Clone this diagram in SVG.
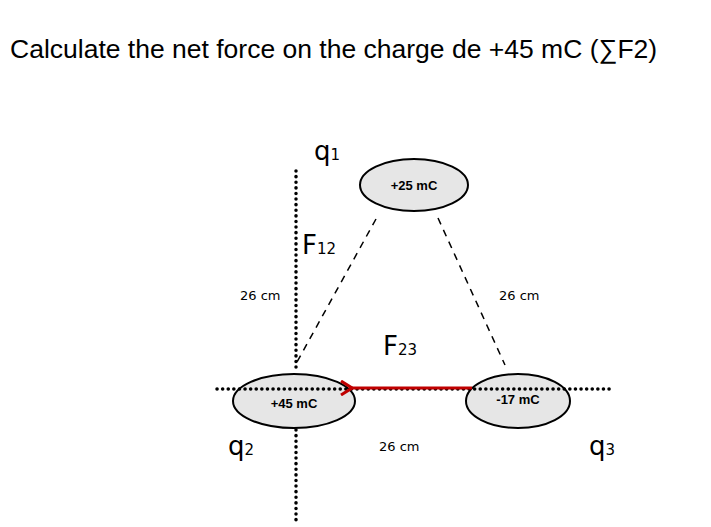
<svg xmlns="http://www.w3.org/2000/svg" width="711" height="527" viewBox="0 0 711 527">
<style>
.t{font-family:"Liberation Sans",sans-serif}
.c{font-family:"DejaVu Sans",sans-serif;font-size:13px;fill:#000}
.n{fill:#e6e6e6;stroke:#000;stroke-width:2}
.nl{font-family:"Liberation Sans",sans-serif;font-size:13px;font-weight:bold;text-anchor:middle}
.big{font-family:"DejaVu Sans",sans-serif;font-size:26px}
.sub{font-size:15px}
.dot{stroke:#000;stroke-width:3.5;stroke-dasharray:0.1 5.5;stroke-linecap:round;fill:none}
.dash{stroke:#000;stroke-width:1.5;stroke-dasharray:7 6;fill:none}
</style>
<defs><marker id="ah" markerWidth="14" markerHeight="16" refX="1" refY="8" orient="auto" markerUnits="userSpaceOnUse"><path d="M12,1 L1,8 L12,15" fill="none" stroke="#c00000" stroke-width="3"/></marker></defs>
<rect width="711" height="527" fill="#fff"/>
<text class="t" x="10" y="58" font-size="26.5">Calculate the net force on the charge de +45 mC (∑F2)</text>
<g id="q1"><ellipse class="n" cx="414" cy="185" rx="54" ry="26"/><text class="nl" x="414" y="190">+25 mC</text></g>
<g id="q2"><ellipse class="n" cx="294" cy="401" rx="61" ry="27"/><text class="nl" x="294" y="408" font-size="15">+45 mC</text></g>
<g id="q3"><ellipse class="n" cx="518" cy="401" rx="52" ry="27"/><text class="nl" x="518" y="404">-17 mC</text></g>
<g id="connectors">
<line class="dot" x1="296" y1="171" x2="296" y2="372"/>
<line class="dot" x1="296" y1="430" x2="296" y2="520"/>
<line class="dot" x1="217" y1="389" x2="611" y2="389"/>
<line class="dash" x1="376" y1="219" x2="297" y2="362"/>
<line class="dash" x1="438" y1="218" x2="505" y2="365"/>
<line x1="472" y1="388" x2="352" y2="388" stroke="#c00000" stroke-width="3" marker-end="url(#ah)"/>
</g>
<g id="labels">
<text class="big" x="314" y="160">q<tspan class="sub">1</tspan></text>
<text class="big" x="302" y="254">F<tspan class="sub">12</tspan></text>
<text class="big" x="383" y="355">F<tspan class="sub">23</tspan></text>
<text class="big" x="228" y="455">q<tspan class="sub">2</tspan></text>
<text class="big" x="589" y="455">q<tspan class="sub">3</tspan></text>
<text class="c" x="240" y="300">26 cm</text>
<text class="c" x="499" y="300">26 cm</text>
<text class="c" x="379" y="451">26 cm</text>
</g>
</svg>
